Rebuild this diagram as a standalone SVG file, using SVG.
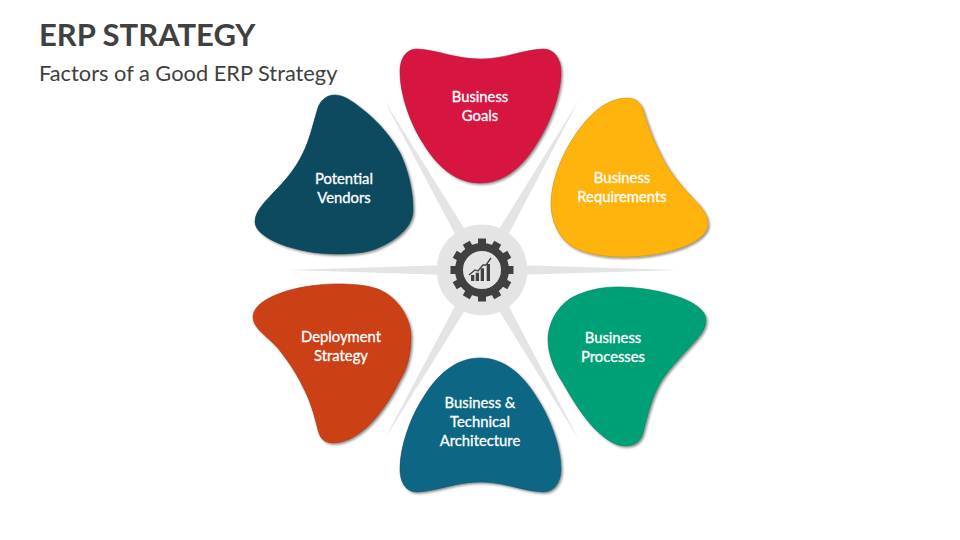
<svg xmlns="http://www.w3.org/2000/svg" xmlns:xlink="http://www.w3.org/1999/xlink" width="960" height="540" viewBox="0 0 960 540">
<style>
text{font-family:"Lato","Liberation Sans",sans-serif}
.title{font-size:31px;font-weight:700;fill:#404040}
.sub{font-size:21.800px;fill:#404040}
.lbl{font-size:14.800px;font-weight:400;fill:#fff;stroke:#fff;stroke-width:.3;text-anchor:middle}
.blob{filter:url(#sh)}
.spoke{fill:#e4e4e4}
.ic{fill:#404040}
</style>
<defs>
<filter id="sh" x="-10%" y="-10%" width="125%" height="125%"><feDropShadow dx="1.5" dy="1.5" stdDeviation="1" flood-color="#000" flood-opacity=".45"/></filter>
<rect id="tooth" x="478" y="238.5" width="8" height="8"/>
</defs>
<rect width="960" height="540" fill="#fff"/>
<text class="title" x="39" y="46">ERP STRATEGY</text>
<text class="sub" x="39" y="81">Factors of a Good ERP Strategy</text>
<g id="connectors">
<polygon class="spoke" points="288,270 482,264 482,276"/>
<polygon class="spoke" points="678,270 482,264 482,276"/>
<polygon class="spoke" points="384,100 476,273.5 488,266.5"/>
<polygon class="spoke" points="579,100 488,273.5 476,266.5"/>
<polygon class="spoke" points="384,440 476,266.5 488,273.5"/>
<polygon class="spoke" points="579,440 488,266.5 476,273.5"/>
</g>
<g id="hub">
<circle cx="482" cy="270" r="45.500" fill="#e4e4e4"/>
<g class="ic">
<use xlink:href="#tooth"/>
<use xlink:href="#tooth" transform="rotate(30 482 270)"/>
<use xlink:href="#tooth" transform="rotate(60 482 270)"/>
<use xlink:href="#tooth" transform="rotate(90 482 270)"/>
<use xlink:href="#tooth" transform="rotate(120 482 270)"/>
<use xlink:href="#tooth" transform="rotate(150 482 270)"/>
<use xlink:href="#tooth" transform="rotate(180 482 270)"/>
<use xlink:href="#tooth" transform="rotate(210 482 270)"/>
<use xlink:href="#tooth" transform="rotate(240 482 270)"/>
<use xlink:href="#tooth" transform="rotate(270 482 270)"/>
<use xlink:href="#tooth" transform="rotate(300 482 270)"/>
<use xlink:href="#tooth" transform="rotate(330 482 270)"/>
<circle cx="482" cy="270" r="23" fill="none" stroke="#404040" stroke-width="8"/>
<rect x="471" y="275" width="3.300" height="6"/>
<rect x="475.700" y="272.700" width="3.300" height="8.300"/>
<rect x="480.700" y="268.300" width="3.300" height="12.700"/>
<rect x="486.700" y="264" width="3.300" height="17"/>
<polyline points="469,275 475,270 478,271 483,265 486,265 491,258" fill="none" stroke="#404040" stroke-width="1.300"/>
</g>
</g>
<g id="business-goals">
<path class="blob" fill="#d61440" stroke="#b01036" stroke-width=".6" d="M417 49C438 50 455 59 480 59C505 59 522 50 543 49C555 49 561 60 561 72C561 95 549 125 537 143C524 165 505 183 480 183C455 183 436 165 423 143C411 125 400 95 400 72C400 60 405 49 417 49Z"/>
<text class="lbl" x="480" y="102">Business</text>
<text class="lbl" x="480" y="121">Goals</text>
</g>
<g id="business-requirements">
<path class="blob" fill="#feb40e" stroke="#c98e0a" stroke-width=".6" d="M627 98C636 98 641 103 643 110C648 125 653 140 660 153C667 168 677 181 688 193C697 203 708 212 708 224C708 243 665 257 623 257C604 257 586 254 573 247C558 238 551 220 551 203C551 183 560 160 570 143C578 130 587 118 597 110C607 102 617 98 627 98Z"/>
<text class="lbl" x="622" y="183">Business</text>
<text class="lbl" x="622" y="202">Requirements</text>
</g>
<g id="business-processes">
<path class="blob" fill="#06a077" stroke="#057f5e" stroke-width=".6" d="M706 320C706 300 655 287 617 287C600 287 585 291 573 297C558 305 548 323 548 340C548 355 555 371 563 383C572 399 582 415 593 427C603 437 614 446 625 446C635 446 641 441 643 433C648 414 652 397 660 383C668 370 678 360 687 350C696 340 706 331 706 320Z"/>
<text class="lbl" x="613" y="343">Business</text>
<text class="lbl" x="613" y="362">Processes</text>
</g>
<g id="business-technical-architecture">
<path class="blob" fill="#0e6684" stroke="#0a4f66" stroke-width=".6" d="M417 492C438 491 455 482 480 482C505 482 522 491 543 492C555 492 561 481 561 469C561 446 549 416 537 398C524 376 505 358 480 358C455 358 436 376 423 398C411 416 400 446 400 469C400 481 405 492 417 492Z"/>
<text class="lbl" x="480" y="408">Business &amp;</text>
<text class="lbl" x="480" y="427">Technical</text>
<text class="lbl" x="480" y="446">Architecture</text>
</g>
<g id="deployment-strategy">
<path class="blob" fill="#cc3f18" stroke="#a33213" stroke-width=".6" d="M253 317C253 298 296 284 337 284C357 284 371 286 380 290C398 298 411 318 411 337C411 352 408 368 400 380C392 397 379 416 367 427C357 436 345 443 333 443C324 443 320 438 318 430C314 414 310 400 303 387C296 372 286 358 277 347C267 336 253 328 253 317Z"/>
<text class="lbl" x="341" y="342">Deployment</text>
<text class="lbl" x="341" y="361">Strategy</text>
</g>
<g id="potential-vendors">
<path class="blob" fill="#0a4a5e" stroke="#073a4a" stroke-width=".6" d="M335 95C325 95 319 102 317 111C312 128 309 141 303 153C296 168 285 181 273 193C264 203 255 211 255 222C255 238 296 254 337 254C355 254 370 252 380 247C400 238 413 225 413 210C413 190 408 170 400 153C391 137 380 124 367 113C356 104 345 95 335 95Z"/>
<text class="lbl" x="344" y="184">Potential</text>
<text class="lbl" x="344" y="203">Vendors</text>
</g>
</svg>
